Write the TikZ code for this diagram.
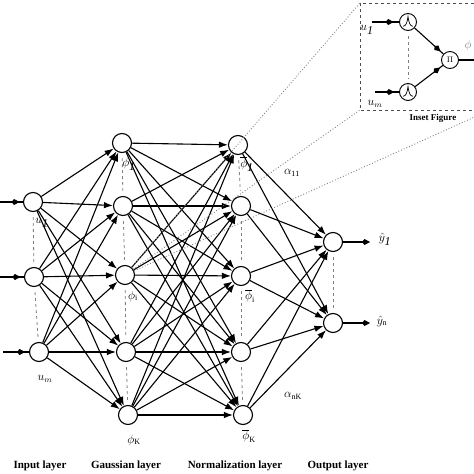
\documentclass[tikz,border=0pt]{standalone}
\usepackage{fontspec}
\setmainfont{Liberation Serif}
\usetikzlibrary{arrows.meta,decorations.markings}

\begin{document}
\begin{tikzpicture}[x=1pt, y=-1pt, line width=1.1pt,
  neuron/.style={draw, circle, fill=white, minimum size=19pt, inner sep=0pt},
  small neuron/.style={draw, circle, fill=white, minimum size=17pt, inner sep=0pt, line width=0.9pt},
  link/.style={-{Latex[length=9pt,width=6.5pt]}},
  feed/.style={postaction={decorate, decoration={markings,
      mark=at position #1 with {\arrow{Kite[length=8pt,width=6pt,inset=2.5pt]}}}}},
  feed/.default=0.85,
  layerdash/.style={gray, dashed, line width=0.8pt, shorten <=5pt, shorten >=5pt},
  zoomline/.style={gray, dotted, line width=0.9pt},
  lab/.style={inner sep=0pt, font=\fontsize{12}{14}\selectfont},
  layerlab/.style={inner sep=0pt, font=\bfseries\fontsize{11}{13}\selectfont}]

\useasboundingbox (0,0) rectangle (474,474);

% Input layer
\node[neuron] (i1) at (33,202) {};
\node[neuron] (i2) at (34,277) {};
\node[neuron] (i3) at (39,352) {};

% Gaussian layer
\node[neuron] (g1) at (122,143) {};
\node[neuron] (g2) at (123,206) {};
\node[neuron] (g3) at (125,275) {};
\node[neuron] (g4) at (126,352) {};
\node[neuron] (g5) at (128,415) {};

% Normalization layer
\node[neuron] (n1) at (238,145) {};
\node[neuron] (n2) at (241,206) {};
\node[neuron] (n3) at (241,276) {};
\node[neuron] (n4) at (241,352) {};
\node[neuron] (n5) at (243,415) {};

% Output layer
\node[neuron] (o1) at (333,242) {};
\node[neuron] (o2) at (333,323) {};

% Free ends of the input and output arrows
\coordinate (in1) at (0,202);
\coordinate (in2) at (0,277);
\coordinate (in3) at (3,352);
\coordinate (out1) at (370,242);
\coordinate (out2) at (370,323);

% Connect the layers
\foreach \a in {1,2,3}
  \foreach \b in {1,...,5}
    \draw[link] (i\a) -- (g\b);
\foreach \a in {1,...,5}
  \foreach \b in {1,...,5}
    \draw[link] (g\a) -- (n\b);
\foreach \a in {1,...,5}
  \foreach \b in {1,2}
    \draw[link] (n\a) -- (o\b);

% Inputs and outputs
\draw[feed] (in1) -- (i1);
\draw[feed] (in2) -- (i2);
\draw[feed] (in3) -- (i3);
\draw[-{Kite[length=8pt,width=6pt,inset=2.5pt]}] (o1) -- (out1);
\draw[-{Kite[length=8pt,width=6pt,inset=2.5pt]}] (o2) -- (out2);

% Dashed lines inside each layer
\foreach \a/\b in {i1/i2, i2/i3, g1/g2, g2/g3, g3/g4, g4/g5,
                   n1/n2, n2/n3, n3/n4, n4/n5, o1/o2}
  \draw[layerdash] (\a) -- (\b);

% Node labels
\node[lab] (lu1) at (42,223) {$u_{\textit{1}}$};
\node[lab] (lum) at (45,379) {$u_m$};
\node[lab] (lg1) at (129,164) {$\phi_{\textit{1}}$};
\node[lab] (lgi) at (133,296) {$\phi_{\mathrm{i}}$};
\node[lab] (lgk) at (134,440) {$\phi_{\mathrm{K}}$};
\node[lab] (ln1) at (247,164) {$\overline{\phi}_{\textit{1}}$};
\node[lab] (lni) at (250,296) {$\overline{\phi}_{\mathrm{i}}$};
\node[lab] (lnk) at (249,436) {$\overline{\phi}_{\mathrm{K}}$};
\node[lab] (la11) at (292,173) {$\alpha_{\mathrm{11}}$};
\node[lab] (lank) at (293,396) {$\alpha_{\mathrm{nK}}$};
\node[lab] (ly1) at (385,239) {$\hat{y}_{\textit{1}}$};
\node[lab] (lyn) at (382,321) {$\hat{y}_{\mathrm{n}}$};

% Layer names
\node[layerlab] (tin) at (40,466) {Input layer};
\node[layerlab] (tga) at (126,466) {Gaussian layer};
\node[layerlab] (tno) at (235,466) {Normalization layer};
\node[layerlab] (tou) at (338,466) {Output layer};

% Inset figure
\coordinate (box-nw) at (360,3);
\coordinate (box-sw) at (360,110);
\coordinate (box-se) at (490,110);
\draw[gray!60!black, dashed, line width=0.8pt] (box-nw) rectangle (490,110);

\node[small neuron] (s1) at (408,22) {};
\node[small neuron] (s2) at (408,92) {};
\node[small neuron, font=\footnotesize] (p1) at (450,60) {$\Pi$};
\foreach \s in {s1,s2}
  \draw[line width=0.7pt, shift={(\s)}] plot[domain=-5:5, samples=41]
    (\x, {4.5-10*exp(-abs(\x)/1.4)});

\coordinate (sin1) at (372,22);
\coordinate (sin2) at (375,92);
\coordinate (pout) at (480,60);
\draw[feed=0.8] (sin1) -- (s1);
\draw[feed=0.8] (sin2) -- (s2);
\draw[feed=0.9] (s1) -- (p1);
\draw[feed=0.9] (s2) -- (p1);
\draw (p1) -- (pout);
\draw[layerdash] (s1) -- (s2);

\node[lab] (su1) at (367,30) {$u_{\textit{1}}$};
\node[lab] (sum) at (375,104) {$u_m$};
\node[lab, gray] (sphi) at (468,45) {$\phi$};
\node[inner sep=0pt, font=\bfseries\fontsize{9}{11}\selectfont] (tinset) at (433,118) {Inset Figure};

% Zoom lines from the Gaussian node to the inset
\draw[zoomline] (g3) -- (box-nw);
\draw[zoomline] (g3) -- (box-sw);
\draw[zoomline] (g3) -- (box-se);

\end{tikzpicture}
\end{document}
